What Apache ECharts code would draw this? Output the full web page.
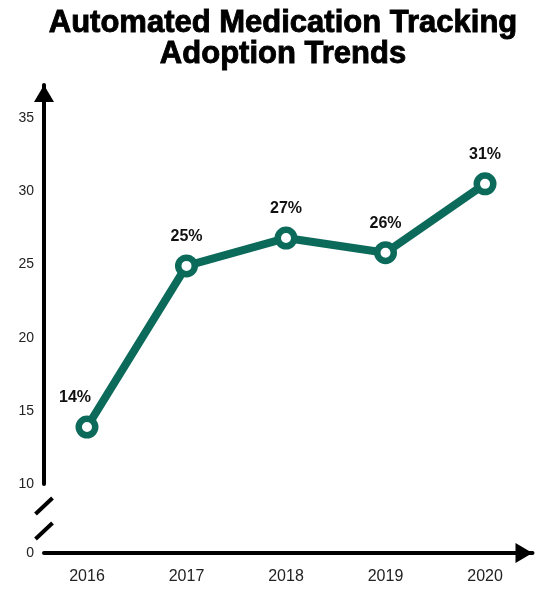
<!DOCTYPE html>
<html>
<head>
<meta charset="utf-8">
<script src="https://cdn.jsdelivr.net/npm/echarts@6/dist/echarts.min.js"></script>
<style>
html, body { margin: 0; padding: 0; background: #fff; }
#chart { width: 540px; height: 600px; }
</style>
</head>
<body>
<div id="chart"></div>
<script>
var years = [2016, 2017, 2018, 2019, 2020];
var adoption = [13.9, 24.9, 26.8, 25.8, 30.5];
var pctLabels = ['14%', '25%', '27%', '26%', '31%'];

(function() {
	var teal = '#0b6a5a';
	var gridLeft = 44;
	var chart = echarts.init(document.getElementById('chart'));

	var points = adoption.map(function(v, i) {
		var item = { value: [years[i], v] };
		if (i === 0) {
			item.label = { offset: [-12, 0] };
		}
		return item;
	});

	var axisLine = {
		show: true,
		lineStyle: { color: '#000', width: 4 },
		symbol: ['none', 'triangle'],
		symbolSize: [20, 17],
		symbolOffset: [0, -8.5]
	};

	var option = {
		animation: false,
		title: {
			text: 'Automated Medication Tracking\nAdoption Trends',
			left: 283,
			textAlign: 'center',
			top: 8,
			padding: 0,
			textStyle: {
				fontFamily: 'Liberation Sans',
				fontSize: 31,
				fontWeight: 'bold',
				lineHeight: 31,
				color: '#000',
				textBorderColor: '#000',
				textBorderWidth: 0.9
			}
		},
		grid: {
			left: gridLeft,
			right: 7.5,
			top: 85,
			bottom: 47,
			outerBoundsMode: 'none'
		},
		xAxis: {
			type: 'value',
			min: 2015.568,
			max: 2020.477,
			axisLine: axisLine,
			axisTick: { show: false },
			splitLine: { show: false },
			axisLabel: {
				customValues: years,
				margin: 16,
				fontFamily: 'Liberation Sans',
				fontSize: 16,
				color: '#222',
				formatter: function(v) {
					return String(v);
				}
			}
		},
		yAxis: {
			type: 'value',
			min: 0,
			max: 37.25,
			interval: 5,
			breaks: [{ start: 0, end: 10, gap: 4.7 }],
			breakArea: { show: false },
			axisLine: axisLine,
			axisTick: { show: false },
			splitLine: { show: false },
			axisLabel: {
				margin: 10,
				showMaxLabel: false,
				fontFamily: 'Liberation Sans',
				fontSize: 14,
				color: '#222'
			}
		},
		series: [{
			type: 'line',
			data: points,
			symbol: 'circle',
			symbolSize: 16.5,
			lineStyle: { color: teal, width: 8 },
			itemStyle: { color: '#fff', borderColor: teal, borderWidth: 6.5 },
			label: {
				show: true,
				position: 'top',
				distance: 10,
				fontFamily: 'Liberation Sans',
				fontSize: 16,
				fontWeight: 'bold',
				color: '#111',
				formatter: function(p) {
					return pctLabels[p.dataIndex];
				}
			}
		}]
	};
	chart.setOption(option);

	// "//" break marks on the y axis, between the 0 and 10 positions
	var y0 = chart.convertToPixel({ yAxisIndex: 0 }, 0);
	var y10 = chart.convertToPixel({ yAxisIndex: 0 }, 10);
	var mid = (y0 + y10) / 2;
	var half = 12.5;
	chart.setOption({
		graphic: [{
			type: 'rect',
			shape: { x: gridLeft - 4, y: mid - half, width: 8, height: half * 2 },
			style: { fill: '#fff' },
			z: 100
		}, {
			type: 'line',
			shape: { x1: gridLeft - 8.5, y1: mid - half + 8, x2: gridLeft + 8.5, y2: mid - half - 8 },
			style: { stroke: '#000', lineWidth: 4 },
			z: 101
		}, {
			type: 'line',
			shape: { x1: gridLeft - 8.5, y1: mid + half + 8, x2: gridLeft + 8.5, y2: mid + half - 8 },
			style: { stroke: '#000', lineWidth: 4 },
			z: 101
		}]
	});
})();
</script>
</body>
</html>
